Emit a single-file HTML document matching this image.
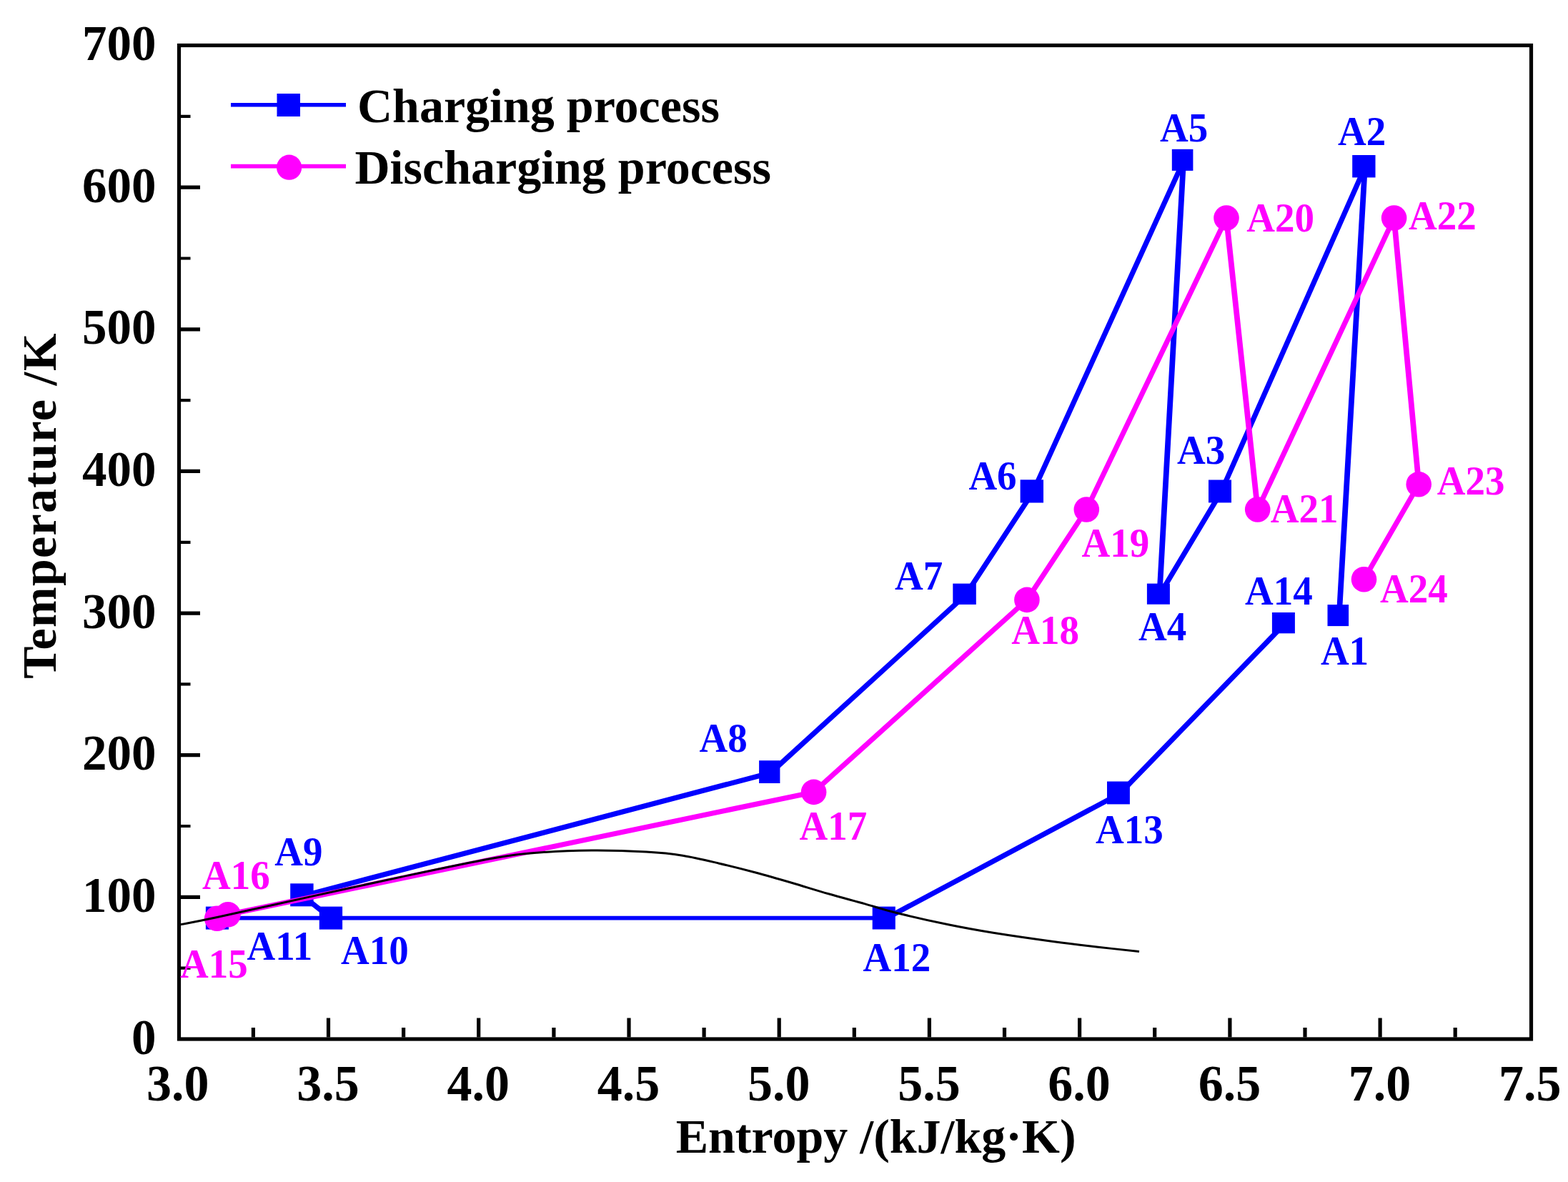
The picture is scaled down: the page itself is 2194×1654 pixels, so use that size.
<!DOCTYPE html>
<html lang="en"><head><meta charset="utf-8"><title>T-s diagram</title>
<style>html,body{margin:0;padding:0;background:#fff}body{width:2194px;height:1654px;overflow:hidden}svg{display:block}text{font-family:"Liberation Serif",serif;font-weight:bold}</style></head><body>
<svg width="2194" height="1654" viewBox="0 0 2194 1654">
<rect width="2194" height="1654" fill="#fff"/>
<path d="M253.0 1354.7h13.5M253.0 1156.0h13.5M253.0 957.4h13.5M253.0 758.8h13.5M253.0 560.1h13.5M253.0 361.5h13.5M253.0 162.8h13.5" stroke="#000" stroke-width="4.2" fill="none"/>
<path d="M253.0 1255.4h27M253.0 1056.7h27M253.0 858.1h27M253.0 659.4h27M253.0 460.8h27M253.0 262.1h27M354.4 1451.5v-13.5M459.5 1451.5v-27.0M564.6 1451.5v-13.5M669.7 1451.5v-27.0M774.9 1451.5v-13.5M880.0 1451.5v-27.0M985.1 1451.5v-13.5M1090.2 1451.5v-27.0M1195.3 1451.5v-13.5M1300.4 1451.5v-27.0M1405.5 1451.5v-13.5M1510.6 1451.5v-27.0M1615.7 1451.5v-13.5M1720.9 1451.5v-27.0M1826.0 1451.5v-13.5M1931.1 1451.5v-27.0M2036.2 1451.5v-13.5" stroke="#000" stroke-width="5.2" fill="none"/>
<rect x="250.5" y="63.5" width="1892.0" height="1390.5" fill="none" stroke="#000" stroke-width="5.2"/>
<g font-size="69" fill="#000" text-anchor="end">
<text x="218.5" y="1474.5">0</text>
<text x="218.5" y="1275.9">100</text>
<text x="218.5" y="1077.2">200</text>
<text x="218.5" y="878.6">300</text>
<text x="218.5" y="679.9">400</text>
<text x="218.5" y="481.3">500</text>
<text x="218.5" y="282.6">600</text>
<text x="218.5" y="84.0">700</text>
</g>
<g font-size="70" fill="#000">
<text transform="translate(248.8 1539.6) scale(1 1.025)" text-anchor="middle">3.0</text>
<text transform="translate(459.0 1539.6) scale(1 1.025)" text-anchor="middle">3.5</text>
<text transform="translate(669.2 1539.6) scale(1 1.025)" text-anchor="middle">4.0</text>
<text transform="translate(879.5 1539.6) scale(1 1.025)" text-anchor="middle">4.5</text>
<text transform="translate(1089.7 1539.6) scale(1 1.025)" text-anchor="middle">5.0</text>
<text transform="translate(1299.9 1539.6) scale(1 1.025)" text-anchor="middle">5.5</text>
<text transform="translate(1510.1 1539.6) scale(1 1.025)" text-anchor="middle">6.0</text>
<text transform="translate(1720.4 1539.6) scale(1 1.025)" text-anchor="middle">6.5</text>
<text transform="translate(1930.6 1539.6) scale(1 1.025)" text-anchor="middle">7.0</text>
<text transform="translate(2140.8 1539.6) scale(1 1.025)" text-anchor="middle">7.5</text>
</g>
<text x="1225.6" y="1613" font-size="68" text-anchor="middle" fill="#000">Entropy /(kJ/kg·K)</text>
<text transform="translate(78.3 707.5) rotate(-90)" font-size="68" text-anchor="middle" letter-spacing="1.3" fill="#000">Temperature /K</text>
<path d="M323 146.7H484" stroke="#00f" stroke-width="5.6"/>
<rect x="387.5" y="131" width="32.5" height="32" fill="#00f"/>
<path d="M323 232.6H484" stroke="#f0f" stroke-width="5.6"/>
<circle cx="404.6" cy="234.2" r="17.6" fill="#f0f"/>
<text x="500" y="170.8" font-size="68" fill="#000">Charging process</text>
<text x="496.5" y="256.8" font-size="68" fill="#000">Discharging process</text>
<path d="M1873.7 862.5L1909.8 234.1M1622.4 832.6L1656.0 225.2" fill="none" stroke="#00f" stroke-width="7.8" stroke-linecap="round"/><path d="M1909.8 234.1L1708.4 688.9M1708.4 688.9L1622.4 832.6M1656.0 225.2L1445.2 688.8M1445.2 688.8L1351.0 832.7M1351.0 832.7L1078.2 1081.5M1078.2 1081.5L423.8 1253.7M423.8 1253.7L464.4 1286.0M1238.1 1286.0L1566.4 1110.9M1566.4 1110.9L1797.4 873.1" fill="none" stroke="#00f" stroke-width="7.2" stroke-linecap="round"/><path d="M463.0 1284.6L304.0 1284.6M304.0 1284.6L1236.7 1284.6" fill="none" stroke="#00f" stroke-width="5.6"/>
<g fill="#00f"><rect x="1857.5" y="846.1" width="29.6" height="30.0"/><rect x="1892.2" y="217.0" width="32.3" height="31.4"/><rect x="1691.0" y="671.5" width="32.0" height="31.9"/><rect x="1604.9" y="816.6" width="32.0" height="29.1"/><rect x="1639.8" y="208.8" width="29.6" height="30.1"/><rect x="1427.6" y="671.3" width="32.4" height="32.2"/><rect x="1333.3" y="816.6" width="32.5" height="29.3"/><rect x="1062.1" y="1064.2" width="29.3" height="31.8"/><rect x="406.2" y="1236.3" width="32.4" height="32.0"/><rect x="446.8" y="1268.6" width="32.3" height="32.0"/><rect x="287.9" y="1268.6" width="32.1" height="32.0"/><rect x="1220.7" y="1268.6" width="32.1" height="31.9"/><rect x="1549.0" y="1093.5" width="31.9" height="31.9"/><rect x="1779.9" y="857.0" width="32.0" height="29.3"/></g>
<path d="M303.7 1285.3L319.0 1279.8M319.0 1279.8L1138.6 1108.4M1138.6 1108.4L1436.9 839.4M1436.9 839.4L1520.3 713.0M1520.3 713.0L1716.0 305.0M1759.7 713.0L1950.6 305.0M1985.2 677.7L1908.5 810.7" fill="none" stroke="#f0f" stroke-width="7.2" stroke-linecap="round"/><path d="M1716.0 305.0L1759.7 713.0M1950.6 305.0L1985.2 677.7" fill="none" stroke="#f0f" stroke-width="7.8" stroke-linecap="round"/>
<g fill="#f0f"><circle cx="303.7" cy="1285.3" r="17.8"/><circle cx="319.0" cy="1279.8" r="17.8"/><circle cx="1138.6" cy="1108.4" r="17.8"/><circle cx="1436.9" cy="839.4" r="17.8"/><circle cx="1520.3" cy="713.0" r="17.8"/><circle cx="1716.0" cy="305.0" r="17.8"/><circle cx="1759.7" cy="713.0" r="17.8"/><circle cx="1950.6" cy="305.0" r="17.8"/><circle cx="1985.2" cy="677.7" r="17.8"/><circle cx="1908.5" cy="810.7" r="17.8"/></g>
<path d="M252.8 1293.7C261.3 1292.0 274.0 1289.9 303.8 1283.5C333.6 1277.1 388.9 1264.7 431.4 1255.4C473.9 1246.1 516.5 1236.6 559.0 1227.6C601.5 1218.6 654.7 1207.2 686.7 1201.5C718.7 1195.8 727.5 1195.1 751.0 1193.2C774.5 1191.3 802.1 1190.3 827.6 1190.1C853.1 1189.9 882.9 1190.9 904.2 1192.1C925.5 1193.3 938.2 1194.5 955.2 1197.2C972.2 1199.9 989.3 1204.2 1006.3 1208.2C1023.3 1212.2 1040.3 1216.5 1057.3 1221.0C1074.3 1225.5 1091.4 1230.5 1108.4 1235.5C1125.4 1240.5 1142.4 1245.9 1159.4 1250.8C1176.4 1255.7 1194.9 1260.5 1210.5 1264.9C1226.1 1269.3 1233.4 1272.2 1252.8 1277.0C1272.2 1281.8 1304.0 1289.1 1326.8 1293.8C1349.6 1298.5 1365.2 1301.3 1389.7 1305.3C1414.2 1309.2 1449.0 1314.2 1473.5 1317.5C1498.0 1320.8 1516.3 1322.9 1536.4 1325.2C1556.5 1327.5 1584.4 1330.5 1594.0 1331.5" fill="none" stroke="#000" stroke-width="3"/>
<g font-size="55">
<text transform="translate(1623 198) scale(1 1.03)" fill="#00f">A5</text>
<text transform="translate(1872 202.6) scale(1 1.03)" fill="#00f">A2</text>
<text transform="translate(1744.3 323.6) scale(1 1.03)" fill="#f0f">A20</text>
<text transform="translate(1971.1 321.4) scale(1 1.03)" fill="#f0f">A22</text>
<text transform="translate(1647 649.2) scale(1 1.03)" fill="#00f">A3</text>
<text transform="translate(1355.4 685) scale(1 1.03)" fill="#00f">A6</text>
<text transform="translate(1777.8 730.5) scale(1 1.03)" fill="#f0f">A21</text>
<text transform="translate(2010.7 692.2) scale(1 1.03)" fill="#f0f">A23</text>
<text transform="translate(1513.5 778.8) scale(1 1.03)" fill="#f0f">A19</text>
<text transform="translate(1252 824.5) scale(1 1.03)" fill="#00f">A7</text>
<text transform="translate(1593 896.3) scale(1 1.03)" fill="#00f">A4</text>
<text transform="translate(1742 845.7) scale(1 1.03)" fill="#00f">A14</text>
<text transform="translate(1931.1 843.4) scale(1 1.03)" fill="#f0f">A24</text>
<text transform="translate(1415.3 900.6) scale(1 1.03)" fill="#f0f">A18</text>
<text transform="translate(1847.9 929.5) scale(1 1.03)" fill="#00f">A1</text>
<text transform="translate(978.5 1052) scale(1 1.03)" fill="#00f">A8</text>
<text transform="translate(1118.5 1174.5) scale(1 1.03)" fill="#f0f">A17</text>
<text transform="translate(1533 1180) scale(1 1.03)" fill="#00f">A13</text>
<text transform="translate(384.2 1211) scale(1 1.03)" fill="#00f">A9</text>
<text transform="translate(283 1244.3) scale(1 1.03)" fill="#f0f">A16</text>
<text transform="translate(345.5 1343) scale(1 1.03)" fill="#00f">A11</text>
<text transform="translate(477 1348.5) scale(1 1.03)" fill="#00f">A10</text>
<text transform="translate(252 1368) scale(1 1.03)" fill="#f0f">A15</text>
<text transform="translate(1207.5 1359.4) scale(1 1.03)" fill="#00f">A12</text>
</g>
</svg></body></html>
